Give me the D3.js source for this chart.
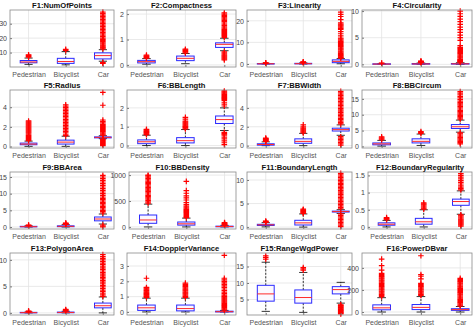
<!DOCTYPE html>
<html>
<head>
<meta charset="utf-8">
<script src="https://cdn.jsdelivr.net/npm/d3@7"></script>
<style>
body { margin: 0; background: #fff; }
svg { display: block; font-family: "Liberation Sans", Arial, sans-serif; }
</style>
</head>
<body>
<svg id="chart" width="474" height="327"></svg>
<script>
'use strict';

const panelTitles = ["F1:NumOfPoints", "F2:Compactness", "F3:Linearity", "F4:Circularity",
    "F5:Radius", "F6:BBLength", "F7:BBWidth", "F8:BBCircum",
    "F9:BBArea", "F10:BBDensity", "F11:BoundaryLength", "F12:BoundaryRegularity",
    "F13:PolygonArea", "F14:DopplerVariance", "F15:RangeWgdPower", "F16:PowerDBvar"];

const categories = ["Pedestrian", "Bicyclist", "Car"];

const yDomains = [[0, 39.5], [-0.08, 2.16], [-1.4, 25], [-0.5, 10.2],
    [-0.15, 5.75], [-0.13, 2.95], [-0.25, 5.9], [-0.5, 17.8],
    [-0.6, 16.5], [-40, 1060], [-0.4, 11.7], [-0.06, 1.6],
    [-0.4, 11.3], [-0.2, 3.85], [0.3, 19.1], [-27, 535]];

const yTicks = [[10, 20, 30], [0, 1, 2], [0, 10, 20], [0, 5, 10],
    [0, 2, 4], [0, 1, 2], [0, 2, 4], [0, 5, 10, 15],
    [0, 5, 10, 15], [0, 500, 1000], [0, 5, 10], [0, 0.5, 1, 1.5],
    [0, 5, 10], [0, 1, 2, 3], [5, 10, 15], [0, 200, 400]];

// per panel, per category: [lower whisker, q1, median, q3, upper whisker]
const boxStats = [
    [[1.8, 2.9, 3.5, 4.5, 6.2], [1.5, 2.5, 3.8, 6, 10.7], [4, 5.6, 7.9, 9.8, 12]],
    [[0.03, 0.08, 0.13, 0.18, 0.25], [0.05, 0.17, 0.26, 0.35, 0.45], [0.56, 0.69, 0.81, 0.87, 1.05]],
    [[0, 0.05, 0.1, 0.2, 0.3], [0, 0.05, 0.15, 0.3, 0.5], [0.1, 0.6, 1.2, 1.9, 2.5]],
    [[0, 0.02, 0.05, 0.1, 0.15], [0, 0.03, 0.08, 0.15, 0.25], [0, 0.05, 0.1, 0.15, 0.3]],
    [[0.02, 0.18, 0.25, 0.35, 0.55], [0.02, 0.25, 0.45, 0.65, 1.05], [0.8, 0.88, 0.93, 0.98, 1.1]],
    [[0, 0.1, 0.2, 0.3, 0.55], [0, 0.14, 0.26, 0.42, 0.85], [0.8, 1.17, 1.38, 1.57, 2.0]],
    [[0, 0.05, 0.12, 0.2, 0.4], [0, 0.25, 0.45, 0.72, 1.3], [1.1, 1.55, 1.7, 1.85, 2.2]],
    [[0.1, 0.5, 0.8, 1.1, 1.9], [0.3, 1.1, 1.6, 2.4, 3.9], [4.5, 5.65, 6.2, 6.9, 8.3]],
    [[0, 0.05, 0.1, 0.2, 0.35], [0, 0.1, 0.2, 0.35, 0.7], [0.9, 1.85, 2.4, 3.0, 3.9]],
    [[0, 70, 134, 230, 440], [0, 35, 60, 95, 170], [0, 3, 8, 15, 30]],
    [[0.05, 0.35, 0.48, 0.6, 0.95], [0, 0.45, 0.9, 1.45, 2.8], [2.9, 3.2, 3.3, 3.4, 3.7]],
    [[0, 0.05, 0.08, 0.12, 0.19], [0, 0.08, 0.15, 0.25, 0.5], [0.37, 0.63, 0.74, 0.81, 1.05]],
    [[0, 0.02, 0.05, 0.1, 0.15], [0, 0.03, 0.08, 0.15, 0.3], [0, 0.95, 1.35, 1.85, 3.0]],
    [[0, 0.1, 0.27, 0.45, 0.9], [0, 0.07, 0.22, 0.45, 0.9], [0, 0, 0.02, 0.05, 0.1]],
    [[1.4, 4.5, 6.7, 9.3, 16.3], [1.1, 3.9, 5.6, 7.9, 13.2], [3.9, 6.7, 8, 8.9, 10.2]],
    [[0, 20, 38, 65, 130], [0, 22, 42, 68, 140], [0, 15, 22, 30, 50]]
];

// per panel, per category: outlier values ('+' markers)
const outliers = [
    [[6.8, 7.4, 8, 8.5], [11.5, 12.2],
     [2.5, 3, 12.6, 13.2, 13.8, 14.5, 15.2, 16, 16.8, 17.6, 18.4, 19.2, 20, 21, 22, 23, 24, 25, 26, 27, 28, 29, 30, 31, 32, 33, 34, 35, 36, 37, 38]],
    [[0.27, 0.3, 0.33, 0.36, 0.39], [0.47, 0.5, 0.53, 0.56, 0.59, 0.62],
     [0.2, 0.24, 0.28, 0.32, 0.36, 0.4, 0.44, 0.48, 0.52, 1.08, 1.12, 1.16, 1.2, 1.24, 1.28, 1.32, 1.36, 1.4, 1.45, 1.5, 1.55, 1.6, 1.65, 1.7, 1.75, 1.8, 1.85, 1.9, 1.95, 2.0, 2.05]],
    [[0.35, 0.45, 0.55], [0.55, 0.7, 0.85, 1.0],
     [2.7, 3, 3.3, 3.6, 4, 4.4, 4.8, 5.2, 5.6, 6, 6.5, 7, 7.5, 8, 8.5, 9, 9.5, 10, 10.5, 11, 11.5, 12, 13, 14, 15, 16, 16.5, 17, 17.5, 18, 18.5, 19, 20.5, 22, 23, 24]],
    [[0.2, 0.25], [0.3, 0.35, 0.4, 0.45, 0.5, 0.55, 0.6],
     [0.4, 0.5, 0.6, 0.7, 0.8, 0.9, 1.0, 1.2, 1.4, 1.6, 1.8, 2.0, 2.2, 2.4, 2.6, 2.8, 3.0, 3.2, 3.5, 4.5, 5.0, 5.5, 6.0, 6.5, 7, 7.5, 8, 8.5, 9, 9.5, 10]],
    [[0.6, 0.7, 0.8, 0.9, 1.0, 1.1, 1.2, 1.3, 1.4, 1.5, 1.6, 1.7, 1.8, 1.9, 2.0, 2.1, 2.2, 2.3, 2.4, 2.5, 2.6],
     [1.1, 1.25, 1.4, 1.55, 1.7, 1.85, 2.0, 2.15, 2.3, 2.45, 2.6, 2.75, 2.9, 3.05, 3.2, 3.35, 3.5, 3.65, 3.8, 3.95, 4.1, 4.25],
     [0.1, 0.2, 0.3, 0.4, 0.5, 0.6, 0.7, 0.75, 1.15, 1.25, 1.35, 1.45, 1.55, 1.65, 1.75, 1.85, 1.95, 2.05, 2.15, 2.25, 2.4, 2.55, 2.7, 4.2, 5.5]],
    [[0.58, 0.62, 0.66, 0.7, 0.74, 0.78, 0.82, 0.86],
     [0.88, 0.92, 0.96, 1.0, 1.05, 1.1, 1.15, 1.2, 1.25, 1.3, 1.4, 1.5],
     [0.05, 0.15, 0.25, 0.35, 0.45, 0.55, 0.6, 0.65, 0.7, 2.1, 2.2, 2.3, 2.4, 2.45, 2.5, 2.55, 2.6, 2.65, 2.7, 2.75, 2.8, 2.85, 2.9]],
    [[0.45, 0.5, 0.55, 0.6, 0.65, 0.7, 0.75, 0.8],
     [1.35, 1.45, 1.55, 1.65, 1.75, 1.85, 2.0, 2.2],
     [0.05, 0.2, 0.35, 0.5, 0.65, 0.8, 0.95, 2.3, 2.45, 2.6, 2.75, 2.9, 3.05, 3.2, 3.35, 3.5, 3.65, 3.8, 3.95, 4.1, 4.25, 4.4, 4.55, 4.7, 4.85, 5.0, 5.15, 5.3, 5.45, 5.6, 5.75]],
    [[2.1, 2.4, 2.7, 3.0], [4.1, 4.4, 4.7],
     [0.8, 1.2, 1.6, 2, 2.4, 2.8, 3.2, 3.6, 4, 4.3, 8.6, 9, 9.4, 9.8, 10.2, 10.6, 11, 11.4, 11.8, 12.2, 12.6, 13, 13.4, 13.8, 14.3, 14.8, 15.3, 15.8, 16.3, 16.8, 17.3]],
    [[0.4, 0.5, 0.6], [0.8, 0.9, 1.0, 1.1, 1.2],
     [0.05, 0.3, 0.6, 4.2, 4.6, 5, 5.4, 5.8, 6.2, 6.6, 7, 7.4, 7.8, 8.2, 8.6, 9, 9.5, 10, 10.5, 11, 11.5, 12, 12.5, 13, 13.5, 14, 14.5, 15, 15.5]],
    [[460, 485, 510, 535, 560, 585, 610, 635, 660, 685, 710, 735, 760, 785, 810, 835, 860, 885, 910, 935, 960, 985, 1000],
     [180, 200, 220, 240, 260, 280, 300, 320, 340, 360, 380, 400, 430, 470, 520, 560, 600, 650, 700, 880],
     [35, 45, 55, 65, 75, 85]],
    [[1.0, 1.1, 1.2, 1.3], [2.9, 3.05, 3.2, 3.35, 3.5, 3.65, 3.8],
     [0.1, 0.4, 0.7, 1.0, 1.3, 1.6, 1.9, 2.2, 2.5, 2.8, 3.9, 4.2, 4.5, 4.8, 5.1, 5.4, 5.7, 6, 6.3, 6.6, 6.9, 7.2, 7.5, 7.8, 8.1, 8.4, 8.7, 9, 9.3, 9.6, 9.9, 10.2, 10.5, 10.8, 11.1, 11.4]],
    [[0.21, 0.23, 0.25, 0.27], [0.52, 0.55, 0.58, 0.61, 0.64, 0.67, 0.7],
     [0.02, 0.05, 0.08, 0.11, 0.14, 0.17, 0.2, 0.23, 0.26, 0.29, 0.32, 0.35, 1.08, 1.12, 1.16, 1.2, 1.25, 1.3, 1.35, 1.4, 1.45, 1.5, 1.55]],
    [[0.2, 0.25, 0.3, 0.35], [0.35, 0.45, 0.55, 0.65],
     [3.1, 3.4, 3.7, 4, 4.3, 4.6, 4.9, 5.2, 5.5, 5.8, 6.1, 6.4, 6.7, 7, 7.3, 7.6, 7.9, 8.2, 8.5, 8.8, 9.1, 9.4, 9.7, 10, 10.3, 10.6, 11]],
    [[0.95, 1.0, 1.05, 1.1, 1.15, 1.2, 1.25, 1.3, 1.35, 1.4, 1.45, 1.5, 1.55, 1.6, 2.2],
     [0.95, 1.02, 1.09, 1.16, 1.23, 1.3, 1.37, 1.44, 1.51, 1.58, 1.65, 1.72, 1.8, 1.88],
     [0.12, 0.18, 0.24, 0.3, 0.36, 0.42, 0.48, 0.54, 0.6, 0.66, 0.72, 0.78, 0.84, 0.9, 0.96, 1.02, 1.1, 1.2, 1.3, 1.4, 1.5, 1.6, 1.7, 1.8, 1.9, 2.0, 2.1, 2.2, 3.7]],
    [[17.2, 17.7, 18.2], [13.9, 14.3, 14.7],
     [0.6, 0.8, 1, 1.2, 1.4, 1.6, 1.8, 2, 2.2, 2.4, 2.6, 2.8, 3, 3.2, 3.4]],
    [[140, 150, 160, 170, 180, 190, 200, 210, 220, 230, 240, 250, 260, 270, 280, 290, 300, 310, 320, 330, 340, 350, 380, 420, 480],
     [150, 160, 170, 180, 190, 200, 210, 220, 230, 240, 250, 260, 300, 325, 340, 510],
     [55, 65, 75, 85, 95, 105, 115, 125, 135, 145, 155, 165, 175, 185, 195, 205, 215, 225, 235, 245, 255, 265, 275, 285, 295, 305]]
];

function getChartConfig() {
    let svg = d3.select("#chart");
    let colLeft = [10, 127, 247, 362];
    let colRight = [114, 236, 352, 472];
    let rowTop = [10, 90, 172, 253];
    let rowBottom = [67, 148, 229, 315];
    return { svg, colLeft, colRight, rowTop, rowBottom };
}

function getPanelScales(config, i) {
    let col = i % 4, row = Math.floor(i / 4);
    let left = config.colLeft[col];
    // a couple of subplots sit a bit further right (wider tick labels)
    if (i === 9) left = 129;
    if (i === 11) left = 368;
    let right = config.colRight[col];
    let top = config.rowTop[row];
    let bottom = config.rowBottom[row];

    let xScale = d3.scaleLinear().domain([0.5, 3.3]).range([left, right]);
    let yScale = d3.scaleLinear().domain(yDomains[i]).range([bottom, top]);
    return { xScale, yScale, left, right, top, bottom };
}

function drawPanel(config, i) {
    let { svg } = config;
    let s = getPanelScales(config, i);
    let { xScale, yScale, left, right, top, bottom } = s;
    let g = svg.append("g").attr("class", "panel");

    // grid
    yTicks[i].forEach(t => {
        g.append("line")
            .attr("x1", left).attr("x2", right)
            .attr("y1", yScale(t)).attr("y2", yScale(t))
            .style("stroke", "#e3e3e3").style("stroke-width", 0.8);
    });
    [1, 2, 3].forEach(c => {
        g.append("line")
            .attr("x1", xScale(c)).attr("x2", xScale(c))
            .attr("y1", top).attr("y2", bottom)
            .style("stroke", "#e3e3e3").style("stroke-width", 0.8);
    });

    let boxW = xScale(1.45) - xScale(1);
    let capW = xScale(1.22) - xScale(1);

    boxStats[i].forEach((st, c) => {
        let cx = xScale(c + 1);
        let [lo, q1, med, q3, hi] = st;
        // whiskers
        g.append("line")
            .attr("x1", cx).attr("x2", cx)
            .attr("y1", yScale(q3)).attr("y2", yScale(hi))
            .style("stroke", "#000").style("stroke-width", 0.8)
            .style("stroke-dasharray", "2,1.5");
        g.append("line")
            .attr("x1", cx).attr("x2", cx)
            .attr("y1", yScale(q1)).attr("y2", yScale(lo))
            .style("stroke", "#000").style("stroke-width", 0.8)
            .style("stroke-dasharray", "2,1.5");
        [lo, hi].forEach(v => {
            g.append("line")
                .attr("x1", cx - capW / 2).attr("x2", cx + capW / 2)
                .attr("y1", yScale(v)).attr("y2", yScale(v))
                .style("stroke", "#000").style("stroke-width", 0.8);
        });
        // box
        g.append("rect")
            .attr("x", cx - boxW / 2)
            .attr("y", yScale(q3))
            .attr("width", boxW)
            .attr("height", Math.max(yScale(q1) - yScale(q3), 0.5))
            .style("fill", "#fbf8ff")
            .style("stroke", "#2a2aff").style("stroke-width", 1);
        // median
        g.append("line")
            .attr("x1", cx - boxW / 2).attr("x2", cx + boxW / 2)
            .attr("y1", yScale(med)).attr("y2", yScale(med))
            .style("stroke", "#ff2a2a").style("stroke-width", 1);
    });

    // outliers
    outliers[i].forEach((vals, c) => {
        let cx = xScale(c + 1);
        g.selectAll(null)
            .data(vals)
            .enter()
            .append("path")
            .attr("d", "M-2.8,0H2.8M0,-2.8V2.8")
            .attr("transform", d => "translate(" + cx + "," + yScale(d) + ")")
            .style("stroke", "#ff0000").style("stroke-width", 1.2)
            .style("fill", "none");
    });

    // axes
    let yAxis = d3.axisLeft(yScale)
        .tickValues(yTicks[i])
        .tickSize(-2)
        .tickPadding(3)
        .tickFormat(d => d);
    let ya = g.append("g")
        .attr("transform", "translate(" + left + ",0)")
        .call(yAxis);
    ya.select(".domain").remove();
    ya.selectAll("line").style("stroke", "#777");
    ya.selectAll("text").style("font-size", "7px").style("fill", "#444")
        .style("font-family", "Liberation Sans, Arial, sans-serif");

    let xAxis = d3.axisBottom(xScale)
        .tickValues([1, 2, 3])
        .tickSize(-2)
        .tickPadding(5)
        .tickFormat(d => categories[d - 1]);
    let xa = g.append("g")
        .attr("transform", "translate(0," + bottom + ")")
        .call(xAxis);
    xa.select(".domain").remove();
    xa.selectAll("line").style("stroke", "#777");
    xa.selectAll("text").style("font-size", "7px").style("fill", "#555")
        .style("font-family", "Liberation Sans, Arial, sans-serif");

    // frame
    g.append("rect")
        .attr("x", left).attr("y", top)
        .attr("width", right - left).attr("height", bottom - top)
        .style("fill", "none").style("stroke", "#8a8a8a").style("stroke-width", 0.8);

    // title
    g.append("text")
        .attr("x", (left + right) / 2)
        .attr("y", top - 2.5)
        .attr("text-anchor", "middle")
        .style("font-size", "7.6px")
        .style("font-weight", "bold")
        .style("fill", "#111")
        .text(panelTitles[i]);
}

function drawChart() {
    let config = getChartConfig();
    for (let i = 0; i < panelTitles.length; i++) {
        drawPanel(config, i);
    }
}

drawChart();
</script>
</body>
</html>
